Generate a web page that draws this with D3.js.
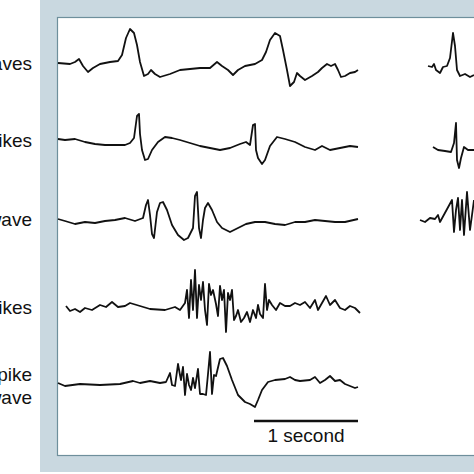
<!DOCTYPE html>
<html><head><meta charset="utf-8">
<script src="https://cdn.jsdelivr.net/npm/d3@7"></script>
<style>body{margin:0;background:#fff}svg{display:block}</style>
</head><body>
<script>
// time in samples (104 samples = 1 second), amplitude in arbitrary units (positive up)
const labels = [["Sharp waves"],["Spikes"],["Spike and wave"],["Polyspikes"],["Polyspike","and wave"]];
const sharpWaves = [[0,0],[12,-1],[17,1],[21,4],[25,-3],[30,-9],[35,-5],[42,-1],[52,1],[60,2],[64,8],[68,25],[72,34],[76,30],[79,18],[82,1],[86,-13],[90,-11],[93,-7],[97,-11],[102,-14],[112,-11],[122,-7],[132,-6],[142,-5],[152,-5],[159,1],[164,-3],[170,-7],[175,-12],[180,-7],[187,-3],[197,-1],[204,3],[208,11],[212,23],[217,30],[222,27],[225,13],[229,-7],[232,-23],[236,-19],[239,-10],[242,-13],[247,-17],[254,-13],[260,-9],[264,-5],[269,-1],[273,-3],[277,-1],[280,-7],[283,-14],[287,-13],[292,-10],[297,-9],[300,-7]];
const sharpWavesR = [[370,-3],[374,-4],[376,-1],[378,-7],[382,-10],[385,-4],[389,-3],[392,5],[395,30],[397,17],[399,-7],[402,-13],[407,-11],[412,-14],[416,-12]];
const spikes = [[0,1],[7,0],[17,1],[27,-2],[37,-4],[47,-5],[57,-5],[67,-5],[72,-3],[76,2],[79,24],[81,26],[82,6],[84,-10],[87,-20],[90,-19],[94,-10],[100,-2],[107,3],[114,2],[122,0],[132,-3],[142,-6],[152,-8],[162,-10],[172,-8],[182,-4],[188,-2],[192,-5],[195,15],[197,16],[198,-10],[200,-18],[204,-24],[207,-20],[212,-6],[219,3],[227,1],[237,-2],[247,-7],[257,-10],[264,-6],[272,-10],[282,-8],[292,-6],[300,-7]];
const spikesR = [[375,-7],[380,-10],[387,-11],[393,-12],[396,-3],[398,17],[399,-20],[401,-28],[403,-18],[406,-7],[410,-10],[416,-10]];
const spikeWave = [[0,0],[7,-2],[17,-5],[27,-3],[37,-4],[47,-2],[57,-1],[67,1],[77,-2],[85,1],[88,14],[90,19],[92,4],[94,-15],[96,-19],[99,7],[102,16],[105,17],[109,9],[114,-6],[120,-16],[126,-21],[130,-19],[135,-9],[137,23],[139,27],[141,-9],[143,-19],[145,-1],[147,11],[150,16],[154,9],[159,-3],[164,-9],[172,-13],[180,-9],[188,-5],[197,-3],[207,-3],[217,-5],[227,-6],[237,-3],[247,-3],[257,-1],[267,-2],[277,-3],[287,-3],[300,0]];
const spikeWaveR = [[362,-1],[367,-3],[372,1],[377,0],[380,4],[382,-3],[394,19],[396,-13],[398,9],[400,21],[402,-11],[404,19],[406,-16],[409,27],[412,-11],[416,19]];
const polyspikes = [[8,1],[12,-4],[17,-2],[22,-5],[27,-1],[34,-3],[42,2],[48,0],[54,5],[60,0],[67,1],[72,4],[82,1],[92,-2],[107,-3],[117,0],[122,-3],[127,4],[129,17],[131,-11],[133,27],[135,-3],[137,37],[139,-11],[141,22],[143,7],[145,25],[147,-3],[149,-18],[151,23],[153,12],[155,17],[158,3],[160,-9],[162,21],[164,7],[166,17],[168,-25],[170,14],[172,7],[174,17],[176,-13],[178,-9],[180,-3],[183,-15],[186,-11],[189,-5],[192,-15],[195,-3],[198,-11],[200,2],[202,-7],[205,-11],[207,23],[209,-3],[211,7],[214,2],[218,-3],[222,4],[227,1],[232,1],[237,4],[242,2],[247,5],[252,-1],[257,7],[260,-3],[264,4],[268,11],[272,2],[277,7],[282,-1],[287,-3],[292,1],[297,-1],[302,-6]];
const polyspikeWave = [[0,1],[7,-2],[22,0],[42,-1],[62,0],[75,3],[82,1],[92,3],[102,1],[108,2],[112,11],[114,-1],[117,-2],[120,20],[122,9],[123,4],[125,17],[127,-11],[129,10],[131,-1],[133,-6],[135,6],[137,-4],[140,15],[142,-10],[145,-10],[148,-11],[150,10],[152,32],[154,-10],[156,9],[158,8],[162,25],[165,26],[169,18],[174,4],[180,-11],[187,-18],[192,-20],[197,-23],[200,-16],[204,-6],[210,2],[217,4],[227,5],[232,7],[237,4],[242,3],[252,4],[257,7],[262,1],[267,4],[272,8],[277,3],[282,4],[287,0],[292,-2],[297,-4],[300,-3]];
const tracks = [[sharpWaves, sharpWavesR],[spikes, spikesR],[spikeWave, spikeWaveR],[polyspikes],[polyspikeWave]];
const scaleBar = [196, 300]; // samples
const scaleLabel = "1 second";

const W=474,H=474;
const svg=d3.select("body").append("svg").attr("width",W).attr("height",H);
svg.append("rect").attr("x",40).attr("y",0).attr("width",W-40).attr("height",472).attr("fill","#c9d8e0");
svg.append("rect").attr("x",57.5).attr("y",17.5).attr("width",W).attr("height",438).attr("fill","#fff").attr("stroke","#6e8f9c").attr("stroke-width",1.2);

const x=d3.scaleLinear().domain([0,416]).range([58,474]);
const yOff=[63,140,219,307,384];
const line=d3.line().x(d=>x(d[0])).y(d=>-d[1]);

tracks.forEach((segs,i)=>{
  const g=svg.append("g").attr("transform",`translate(0,${yOff[i]})`);
  segs.forEach(s=>g.append("path").attr("d",line(s)).attr("fill","none").attr("stroke","#111").attr("stroke-width",1.8).attr("stroke-linejoin","round"));
});

const lblY=[[63],[140],[219],[307],[374,397]];
labels.forEach((l,i)=>l.forEach((t,j)=>svg.append("text").attr("x",32).attr("y",lblY[i][j]).attr("dy","0.35em")
  .attr("text-anchor","end").attr("font-family","Liberation Sans, Arial, sans-serif").attr("font-size",19).attr("fill","#111").text(t)));

svg.append("line").attr("x1",x(scaleBar[0])).attr("x2",x(scaleBar[1])).attr("y1",421).attr("y2",421).attr("stroke","#111").attr("stroke-width",2.4);
svg.append("text").attr("x",(x(scaleBar[0])+x(scaleBar[1]))/2).attr("y",442).attr("text-anchor","middle")
  .attr("font-family","Liberation Sans, Arial, sans-serif").attr("font-size",19).attr("fill","#111").text(scaleLabel);
</script>
</body></html>
